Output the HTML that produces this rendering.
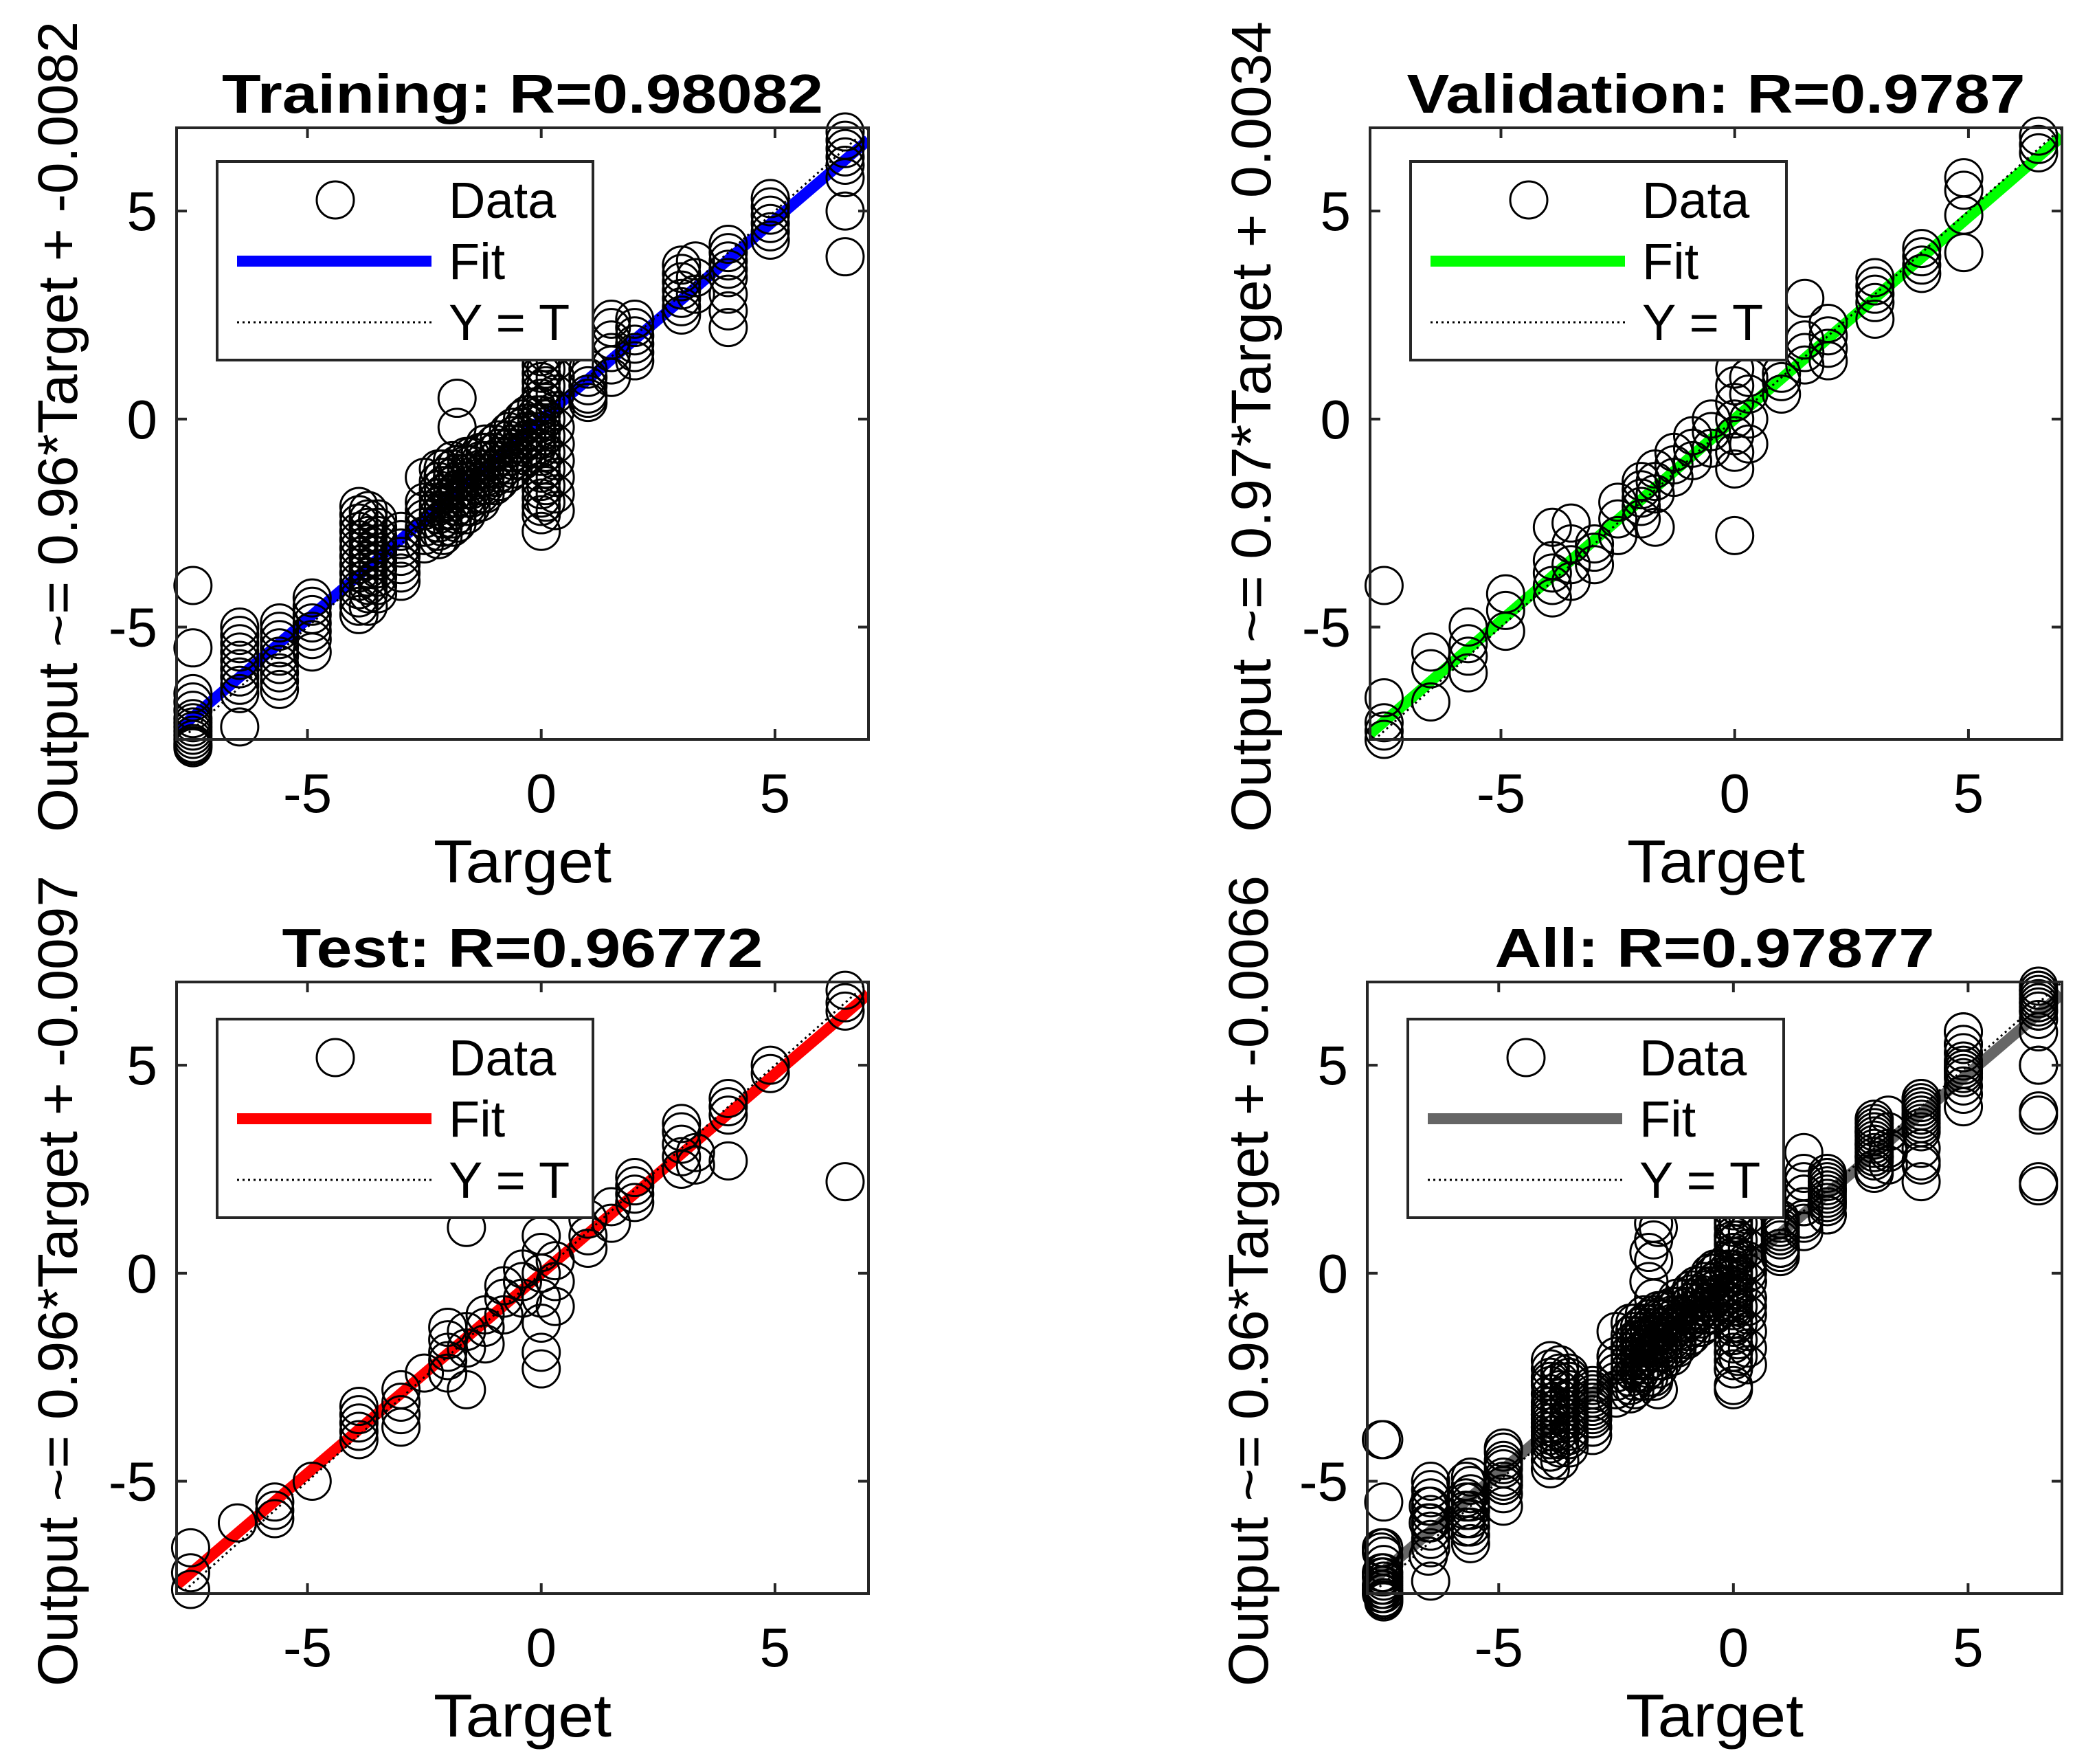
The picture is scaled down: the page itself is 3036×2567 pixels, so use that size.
<!DOCTYPE html>
<html><head><meta charset="utf-8"><style>
html,body{margin:0;padding:0;background:#fff;}
svg{display:block;}
text{font-family:"Liberation Sans",Arial,sans-serif;fill:#000;}
</style></head><body>
<svg id="fig" width="3036" height="2567" viewBox="0 0 3036 2567" xmlns="http://www.w3.org/2000/svg"></svg>
<script>
// ---- data ----
const trainT = [-7.45,-6.45,-5.6,-4.9,-3.9,-3.7,-3.5,-3.0,-2.5,-2.2,-2.1,-1.9,-1.8,-1.6,-1.5,-1.3,-1.2,-1.0,-0.9,-0.7,-0.6,-0.4,-0.3,-0.1,0,0.1,0.3,1.0,1.5,2.0,3.0,3.3,4.0,4.9,6.5];
const trainY = [
 [-7.9,-7.85,-7.8,-7.7,-7.6,-7.5,-7.4,-7.3,-7.2,-7.0,-6.8,-6.6,-5.5,-4.0],
 [-7.4,-6.6,-6.4,-6.2,-6.0,-5.8,-5.6,-5.4,-5.2,-5.0],
 [-6.5,-6.3,-6.1,-5.9,-5.7,-5.5,-5.3,-5.1,-4.9],
 [-5.6,-5.3,-5.1,-4.9,-4.7,-4.5,-4.3],
 [-4.7,-4.5,-4.3,-4.1,-3.9,-3.7,-3.5,-3.3,-3.1,-2.9,-2.7,-2.5,-2.3,-2.1],
 [-4.5,-4.2,-4.0,-3.8,-3.6,-3.4,-3.2,-3.0,-2.8,-2.6,-2.4,-2.2],
 [-4.2,-4.0,-3.8,-3.6,-3.4,-3.2,-3.0,-2.8,-2.6,-2.4],
 [-3.9,-3.7,-3.5,-3.3,-3.1,-2.9,-2.7],
 [-3.0,-2.8,-2.6,-2.4,-2.2,-2.0,-1.4],
 [-2.9,-2.7,-2.5,-2.3,-2.1,-1.9,-1.7,-1.5,-1.2],
 [-2.8,-2.6,-2.4,-2.2,-2.0,-1.8,-1.6,-1.4,-1.2],
 [-2.6,-2.4,-2.2,-2.0,-1.8,-1.6,-1.4,-1.2,-1.0],
 [-2.5,-2.3,-2.1,-1.9,-1.7,-1.5,-1.3,-1.1,-0.2,0.5],
 [-2.3,-2.1,-1.9,-1.7,-1.5,-1.3,-1.1,-0.9],
 [-2.1,-1.9,-1.7,-1.5,-1.3,-1.1,-0.9],
 [-2.0,-1.8,-1.6,-1.4,-1.2,-1.0,-0.8],
 [-1.8,-1.6,-1.4,-1.2,-1.0,-0.8,-0.6],
 [-1.6,-1.4,-1.2,-1.0,-0.8,-0.6],
 [-1.5,-1.3,-1.1,-0.9,-0.7,-0.5],
 [-1.3,-1.1,-0.9,-0.7,-0.5,-0.3],
 [-1.2,-1.0,-0.8,-0.6,-0.4,-0.2],
 [-1.0,-0.8,-0.6,-0.4,-0.2,0.0],
 [-0.9,-0.7,-0.5,-0.3,-0.1,0.1],
 [-0.7,-0.5,-0.3,-0.1,0.1,0.3],
 [-2.7,-2.3,-2.1,-1.9,-1.7,-1.5,-1.3,-1.1,-0.9,-0.7,-0.5,-0.3,-0.1,0.1,0.3,0.5,0.7,0.9,1.1,1.3,1.5],
 [-2.0,-1.6,-1.2,-0.8,-0.4,0,0.4,0.8,1.2,1.6],
 [-2.2,-1.8,-1.4,-1.0,-0.6,-0.2,0.2,0.6,1.0,1.4],
 [0.4,0.5,0.6,0.8,1.0,1.2],
 [1.0,1.3,1.6,1.9,2.2,2.4],
 [1.4,1.6,1.8,2.0,2.2,2.4],
 [2.5,2.7,2.9,3.1,3.3,3.5,3.7],
 [3.0,3.4,3.8],
 [2.2,2.6,3.0,3.4,3.6,3.8,4.0,4.2],
 [4.3,4.5,4.7,4.9,5.1,5.3],
 [3.9,5.0,5.8,6.1,6.3,6.5,6.7,6.9]];
const valT = [-7.5,-6.5,-5.7,-4.9,-3.9,-3.5,-3.0,-2.5,-2.0,-1.7,-1.3,-0.9,-0.5,0,0.3,1.0,1.5,2.0,3.0,4.0,4.9,6.5];
const valY = [
 [-7.7,-7.5,-7.3,-6.7,-4.0],[-6.8,-6.0,-5.6],[-6.1,-5.7,-5.4,-5.0],[-5.1,-4.6,-4.2],
 [-4.3,-4.0,-3.7,-3.4,-2.6],[-3.9,-3.5,-3.0,-2.5],[-3.5,-3.2,-3.0],[-2.8,-2.4,-2.0],
 [-2.4,-2.1,-1.9,-1.7,-1.5],[-2.6,-1.8,-1.5,-1.2],[-1.4,-1.1,-0.8],[-1.0,-0.7,-0.4],
 [-0.7,-0.3,0.0],[-2.8,-1.2,-0.8,-0.4,0,0.4,0.8,1.2],[-0.6,0,0.6,1.0],[0.6,0.9,1.1],
 [1.3,1.6,1.9,2.9],[1.4,1.7,2.0,2.3],[2.4,2.8,3.0,3.2,3.4],[3.5,3.7,3.9,4.1],
 [4.0,4.9,5.5,5.8],[6.4,6.6,6.8]];
const testT = [-7.5,-6.5,-5.7,-4.9,-3.9,-3.0,-2.5,-2.0,-1.6,-1.2,-0.8,-0.4,0,0.3,1.0,1.5,2.0,3.0,3.3,4.0,4.9,6.5];
const testY = [
 [-7.6,-7.2,-6.6],[-6.0],[-5.9,-5.7,-5.5],[-5.0],[-4.0,-3.8,-3.6,-3.4,-3.2],
 [-3.7,-3.4,-3.1,-2.8],[-2.4],[-2.4,-2.1,-1.9,-1.6,-1.3],[-2.8,-1.8,-1.4,1.1],
 [-1.7,-1.3,-1.0],[-1.0,-0.6,-0.3],[-0.6,-0.2,0.1],[-2.3,-1.9,-1.2,-0.6,0,0.5,0.9],
 [-0.8,-0.2,0.3],[0.6,0.9,1.3],[1.2,1.6],[1.7,1.9,2.1,2.3],[2.5,2.8,3.1,3.4,3.6],
 [2.6,2.9],[2.7,3.8,4.0,4.2],[4.8,5.0],[2.2,6.3,6.5,6.8]];
const allExtraT = [-1.7,6.5,4.9];
const allExtraY = [[-2.5,-1.0,-0.6,0.3,0.8,1.2],[2.1,3.8,5.0],[5.5,5.8]];
const xTicks = [-5,0,5];
const yTicks = [-5,0,5];
const xLim = [-7.8,7.0];
const yLim = [-7.7,7.0];
const titles = ["Training: R=0.98082","Validation: R=0.9787","Test: R=0.96772","All: R=0.97877"];
const slopes = [0.96,0.97,0.96,0.96];
const offsets = [-0.0082,0.0034,-0.0097,-0.0066];
const ylabels = ["Output ~= 0.96*Target + -0.0082","Output ~= 0.97*Target + 0.0034","Output ~= 0.96*Target + -0.0097","Output ~= 0.96*Target + -0.0066"];
const fitColors = ["#0000ff","#00ff00","#ff0000","#666666"];

const NS="http://www.w3.org/2000/svg";
const svg=document.getElementById('fig');
function mk(tag,attrs,parent){const e=document.createElementNS(NS,tag);for(const k in attrs)e.setAttribute(k,attrs[k]);(parent||svg).appendChild(e);return e;}

const panels=[
 {x0:257,x1:1264,y0:186,y1:1076,key:'training'},
 {x0:1994,x1:3001,y0:186,y1:1076,key:'validation'},
 {x0:257,x1:1264,y0:1429,y1:2319,key:'test'},
 {x0:1990,x1:3001,y0:1429,y1:2319,key:'all'}];
const allT=[].concat(trainT,valT,testT,allExtraT);
const allY=[].concat(trainY,valY,testY,allExtraY);
const sets=[[trainT,trainY],[valT,valY],[testT,testY],[allT,allY]];

panels.forEach((p,i)=>{
  const g=mk('g',{});
  
  
  const sx=v=>p.x0+(v-xLim[0])/(xLim[1]-xLim[0])*(p.x1-p.x0);
  const sy=v=>p.y1-(v-yLim[0])/(yLim[1]-yLim[0])*(p.y1-p.y0);
  const cid='clip'+i;
  const cp=mk('clipPath',{id:cid},g);
  mk('rect',{x:p.x0,y:p.y0,width:p.x1-p.x0,height:p.y1-p.y0},cp);
  const plot=mk('g',{'clip-path':'url(#'+cid+')'},g);
  const T=sets[i][0], Y=sets[i][1];
  const fl=mk('line',{x1:sx(xLim[0]),y1:sy(slopes[i]*xLim[0]+offsets[i]),x2:sx(xLim[1]),y2:sy(slopes[i]*xLim[1]+offsets[i]),stroke:fitColors[i],'stroke-width':16},plot);
  
  
  const il=mk('line',{x1:sx(xLim[0]),y1:sy(xLim[0]),x2:sx(xLim[1]),y2:sy(xLim[1]),stroke:'#000','stroke-width':3,'stroke-dasharray':'3 5'},plot);
  
  
  const pts=mk('g',{},g);
  T.forEach((t,j)=>{Y[j].forEach(v=>{
    const c=mk('circle',{cx:sx(t),cy:sy(v),r:27,fill:'none',stroke:'#000','stroke-width':3},pts);
    
    
  });});
  const box=mk('rect',{x:p.x0,y:p.y0,width:p.x1-p.x0,height:p.y1-p.y0,fill:'none',stroke:'#262626','stroke-width':4},g);
  
  
  xTicks.forEach(v=>{
    const x=sx(v);
    mk('line',{x1:x,y1:p.y1,x2:x,y2:p.y1-15,stroke:'#262626','stroke-width':4},g);
    mk('line',{x1:x,y1:p.y0,x2:x,y2:p.y0+15,stroke:'#262626','stroke-width':4},g);
    const t=mk('text',{x:x,y:p.y1+106,'font-size':80,'text-anchor':'middle',fill:'#262626'},g);
    t.textContent=String(v);
    
    
  });
  yTicks.forEach(v=>{
    const y=sy(v);
    mk('line',{x1:p.x0,y1:y,x2:p.x0+15,y2:y,stroke:'#262626','stroke-width':4},g);
    mk('line',{x1:p.x1,y1:y,x2:p.x1-15,y2:y,stroke:'#262626','stroke-width':4},g);
    const t=mk('text',{x:p.x0-28,y:y+28,'font-size':80,'text-anchor':'end',fill:'#262626'},g);
    t.textContent=String(v);
    
    
  });
  const cx=(p.x0+p.x1)/2;
  const tt=mk('text',{x:cx,y:p.y0-22,'font-size':80,'font-weight':'bold','text-anchor':'middle',textLength:i==1?900:(i==3?640:(i==2?700:875)),lengthAdjust:'spacingAndGlyphs'},g);
  tt.textContent=titles[i];
  
  
  const xl=mk('text',{x:cx,y:p.y1+208,'font-size':88,'text-anchor':'middle',fill:'#262626',textLength:259,lengthAdjust:'spacingAndGlyphs'},g);
  xl.textContent='Target';
  
  
  const ly=(p.y0+p.y1)/2-10, lx=p.x0-145;
  const yl=mk('text',{x:0,y:0,'font-size':82,'text-anchor':'middle',fill:'#262626',transform:'translate('+lx+','+ly+') rotate(-90)',textLength:1180,lengthAdjust:'spacingAndGlyphs'},g);
  yl.textContent=ylabels[i];
  
  
  const bx=p.x0+59, by=p.y0+(i<2?49:54);
  const lg=mk('g',{},g);
  
  
  mk('rect',{x:bx,y:by,width:547,height:289,fill:'#fff',stroke:'#262626','stroke-width':4},lg);
  mk('circle',{cx:bx+172,cy:by+56,r:27,fill:'none',stroke:'#000','stroke-width':3},lg);
  mk('line',{x1:bx+29,y1:by+145,x2:bx+312,y2:by+145,stroke:fitColors[i],'stroke-width':16},lg);
  mk('line',{x1:bx+29,y1:by+234,x2:bx+312,y2:by+234,stroke:'#000','stroke-width':3,'stroke-dasharray':'3 5'},lg);
  [['Data',by+82],['Fit',by+171],['Y = T',by+260]].forEach(a=>{
    const t=mk('text',{x:bx+337,y:a[1],'font-size':74},lg);
    t.textContent=a[0];
    
    
  });
});
</script>
</body></html>
